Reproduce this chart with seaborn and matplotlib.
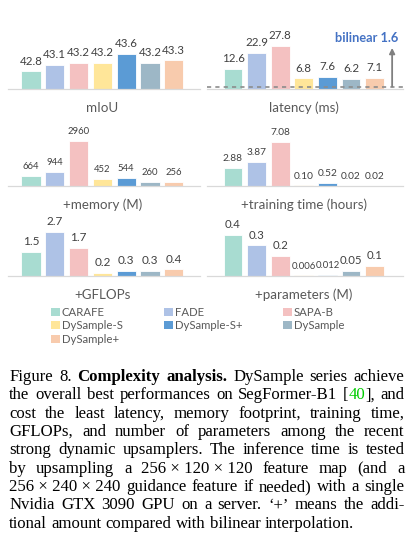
import numpy as np
import pandas as pd
import matplotlib
matplotlib.use("Agg")
import matplotlib.pyplot as plt
import seaborn as sns
from matplotlib.patches import Patch

# ---------------- data ----------------
methods = ["CARAFE", "FADE", "SAPA-B", "DySample-S", "DySample-S+", "DySample", "DySample+"]
colors = ["#A8DCD1", "#AEC2E6", "#F4C1C1", "#FFE699", "#5B9BD5", "#9DB7C6", "#F8CBAD"]
miou = [42.8, 43.1, 43.2, 43.2, 43.6, 43.2, 43.3]
latency = [12.6, 22.9, 27.8, 6.8, 7.6, 6.2, 7.1]
bilinear_latency = 1.6
memory = [664, 944, 2960, 452, 544, 260, 256]
train_time = [2.88, 3.87, 7.08, 0.10, 0.52, 0.02, 0.02]
gflops = [1.5, 2.7, 1.7, 0.2, 0.3, 0.3, 0.4]
params = [0.4, 0.3, 0.2, 0.006, 0.012, 0.05, 0.1]
panel_titles = ["mIoU", "latency (ms)", "+memory (M)", "+training time (hours)",
                "+GFLOPs", "+parameters (M)"]

# ---------------- style ----------------
sns.set_style("white")
plt.rcParams["font.family"] = ["Lato", "DejaVu Sans"]

W, H = 414, 544
DPI = 100
fig = plt.figure(figsize=(W / DPI, H / DPI), dpi=DPI)
fig.patch.set_facecolor("white")


def rect(x0, x1, ytop, ybot):
    return [x0 / W, 1 - ybot / H, (x1 - x0) / W, (ybot - ytop) / H]


cols = {"L": (8, 200, (-0.966, 7.1)), "R": (207, 403, (-1.10, 7.2))}
rows = {1: (10, 89), 2: (125, 186), 3: (215, 276)}

panels = [
    # values, formatter, ylim, label size, col, row
    (miou, lambda v: f"{v:.1f}", (42, 45.59), 8.3, "L", 1),
    (latency, lambda v: f"{v:.1f}", (0, 50.6), 8.3, "R", 1),
    (memory, lambda v: f"{v:d}", (0, 4040), 6.8, "L", 2),
    (train_time, lambda v: f"{v:.2f}", (0, 9.82), 7.3, "R", 2),
    (gflops, lambda v: f"{v:g}", (0, 3.74), 8.5, "L", 3),
    (params, lambda v: f"{v:g}", (0, 0.60), 8.2, "R", 3),
]

axes = []
for (vals, fmt, ylim, fs, c, r), title in zip(panels, panel_titles):
    x0, x1, xlim = cols[c]
    ytop, ybot = rows[r]
    ax = fig.add_axes(rect(x0, x1, ytop, ybot))
    df = pd.DataFrame({"method": methods, "value": vals})
    sns.barplot(data=df, x="method", y="value", hue="method", order=methods,
                hue_order=methods, palette=colors, saturation=1, legend=False,
                width=0.8, edgecolor="white", linewidth=0.6, ax=ax)
    for i, cont in enumerate(ax.containers):
        lab = fmt(vals[i])
        size = fs if len(lab) <= 4 else 6.8
        ax.bar_label(cont, labels=[lab], padding=3.5, fontsize=size, color="#404040")
    ax.set_xlim(*xlim)
    ax.set_ylim(*ylim)
    ax.set_xticks([])
    ax.set_yticks([])
    ax.set_xlabel("")
    ax.set_ylabel("")
    sns.despine(ax=ax, left=True)
    ax.spines["bottom"].set_color("#D9D9D9")
    ax.spines["bottom"].set_linewidth(0.9)
    ax.patch.set_alpha(0)
    ax.annotate(title, xy=(0.5, 0), xycoords="axes fraction",
                xytext=(-1, -19 * 72 / DPI), textcoords="offset points",
                ha="center", va="center", fontsize=9.6, color="#595959")
    axes.append(ax)

# latency extras: bilinear reference
axl = axes[1]
axl.axhline(bilinear_latency, ls=(0, (2.5, 2.5)), color="#8C8C8C", lw=1.2, zorder=3)
axl.annotate("", xy=(6.74, 26.3), xytext=(6.74, bilinear_latency),
             arrowprops=dict(arrowstyle="-|>", color="#808080", lw=1.3,
                             mutation_scale=8, shrinkA=0, shrinkB=0))
axl.text(5.68, 32.7, f"bilinear {bilinear_latency}", ha="center", va="center",
         fontweight="bold", color="#4472C4", fontsize=9.2)

# legend (row-major order like the reference)
handles = [Patch(facecolor=c, edgecolor="none") for c in colors]
order = [0, 3, 6, 1, 4, 2, 5]
fig.legend([handles[i] for i in order], [methods[i] for i in order], ncol=3,
           loc="upper left", bbox_to_anchor=(51 / W, 1 - 306.5 / H), frameon=False,
           fontsize=8.2, labelcolor="#595959", handlelength=0.8, handleheight=0.7,
           handletextpad=0.15, columnspacing=3.6, labelspacing=0.25, borderpad=0,
           borderaxespad=0)

# ---------------- caption (justified) ----------------
SERIF = ["Liberation Serif", "DejaVu Serif"]
CFS = 12.1
GREEN = "#00CC00"
N = {}
B = {"fontweight": "bold"}
NB = "\u00a0"

lines = [
    [[("Figure", N)], [("8.", N)], [("Complexity", B)], [("analysis.", B)],
     [("DySample", N)], [("series", N)], [("achieve", N)]],
    "the overall best performances on SegFormer-B1 [40], and",
    "cost the least latency, memory footprint, training time,",
    "GFLOPs, and number of parameters among the recent",
    "strong dynamic upsamplers. The inference time is tested",
    f"by upsampling a 256{NB}\u00d7{NB}120{NB}\u00d7{NB}120 feature map (and a",
    f"256{NB}\u00d7{NB}240{NB}\u00d7{NB}240 guidance feature if needed) with a single",
    "Nvidia GTX 3090 GPU on a server. \u2018+\u2019 means the addi-",
    "tional amount compared with bilinear interpolation.",
]

renderer = fig.canvas.get_renderer()


def make_words(line):
    if isinstance(line, list):
        return line
    words = []
    for w in line.split(" "):
        if w == "[40],":
            words.append([("[", N), ("40", {"color": GREEN}), ("],", N)])
        else:
            words.append([(w, N)])
    return words


def piece_width(s, props):
    t = fig.text(0, 0, s, fontsize=CFS, family=SERIF, **props)
    wpx = t.get_window_extent(renderer).width
    t.remove()
    return wpx


space_w = piece_width("a b", N) - piece_width("ab", N)
X0, X1 = 9.3, 404.5
BASE0, STEP = 381.0, 18.35
for li, line in enumerate(lines):
    words = make_words(line)
    widths = [[piece_width(s, p) for s, p in w] for w in words]
    totals = [sum(ws) for ws in widths]
    last = li == len(lines) - 1
    gap = space_w if last else (X1 - X0 - sum(totals)) / (len(words) - 1)
    x = X0
    yb = BASE0 + li * STEP
    for w, ws in zip(words, widths):
        for (s, p), pw in zip(w, ws):
            props = dict(p)
            color = props.pop("color", "black")
            fig.text(x / W, 1 - yb / H, s, fontsize=CFS, family=SERIF,
                     va="baseline", ha="left", color=color, **props)
            x += pw
        x += gap

fig.savefig("out.png", dpi=DPI, facecolor="white")
